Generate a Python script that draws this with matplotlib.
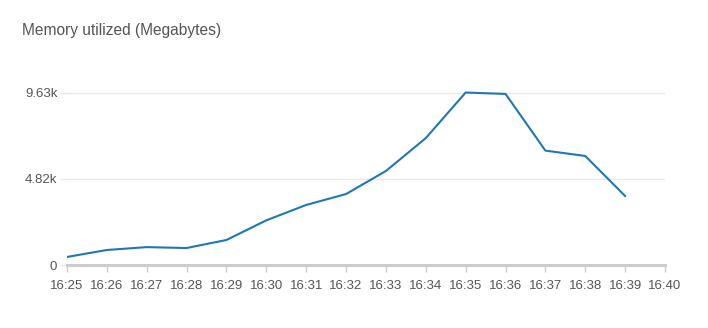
import matplotlib.pyplot as plt

times = ["16:25", "16:26", "16:27", "16:28", "16:29", "16:30", "16:31", "16:32",
         "16:33", "16:34", "16:35", "16:36", "16:37", "16:38", "16:39"]
memory = [450, 840, 1000, 950, 1400, 2500, 3360, 3970,
          5260, 7100, 9650, 9570, 6400, 6100, 3860]
tick_labels = times + ["16:40"]
y_ticks = [0, 4815, 9630]
y_labels = ["0", "4.82k", "9.63k"]

plt.rcParams['font.family'] = ['Liberation Sans', 'DejaVu Sans']
text_color = "#555555"

fig = plt.figure(figsize=(7.08, 3.28), dpi=100)
ax = fig.add_axes([67 / 708, 63 / 328, 598 / 708, 185 / 328])

x = list(range(len(times)))
ax.plot(x, memory, color="#1f77b4", linewidth=1.5)

ax.set_xlim(0, len(tick_labels) - 1)
ax.set_ylim(0, 10350)
ax.set_xticks(range(len(tick_labels)))
ax.set_xticklabels(tick_labels)
ax.set_yticks(y_ticks)
ax.set_yticklabels(y_labels)

ax.grid(axis="y", color="#e9e9e9", linewidth=1)
ax.set_axisbelow(True)
for side in ["top", "right", "left"]:
    ax.spines[side].set_visible(False)
ax.spines["bottom"].set_color("#cccccc")
ax.spines["bottom"].set_linewidth(2.2)

ax.tick_params(axis="x", length=5, width=1, color="#cccccc", pad=6,
               labelsize=9.5, labelcolor=text_color)
ax.tick_params(axis="y", length=5, width=1, color="#e9e9e9", pad=2,
               labelsize=9.5, labelcolor=text_color)

fig.text(22 / 708, 1 - 30 / 328, "Memory utilized (Megabytes)", fontsize=11.2,
         color=text_color, va="center", ha="left")

fig.savefig("out.png", dpi=100)
